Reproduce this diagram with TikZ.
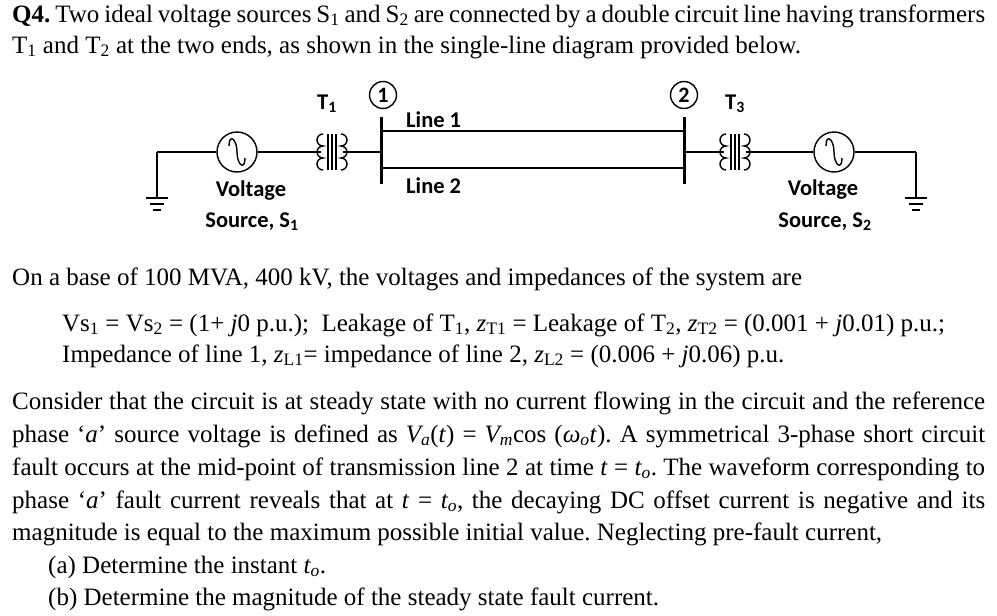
\documentclass[tikz,border=0pt]{standalone}
\usepackage{fontspec}
\usetikzlibrary{calc}
\setmainfont{Liberation Serif}
\newfontfamily\lbl{Carlito}
\frenchspacing
\begin{document}
\begin{tikzpicture}[x=1pt,y=-1pt,
  txt/.style={anchor=base west,inner sep=0pt,font=\fontsize{25}{28}\selectfont},
  lab/.style={inner sep=0pt,font=\lbl\bfseries\fontsize{22.5}{26}\selectfont},
  wire/.style={line width=1.6pt},
  bus/.style={line width=3pt},
  src/.style={circle,draw,line width=1.4pt,minimum size=40pt,inner sep=0pt},
  busnum/.style={circle,draw,line width=1.4pt,minimum size=27pt,inner sep=0pt,font=\lbl\bfseries\fontsize{22}{26}\selectfont}]
\useasboundingbox (0,0) rectangle (997,616);
% text
\node[txt] (t1) at (12,22) {\makebox[973pt][s]{\textbf{Q4.} Two ideal voltage sources S\textsubscript{1} and S\textsubscript{2} are connected by a double circuit line having transformers}};
\node[txt] (t2) at (12,53) {T\textsubscript{1} and T\textsubscript{2} at the two ends, as shown in the single-line diagram provided below.};
\node[txt] (t3) at (12,285) {On a base of 100 MVA, 400 kV, the voltages and impedances of the system are};
\node[txt] (t4) at (62,331) {Vs\textsubscript{1} = Vs\textsubscript{2} = (1+ \textit{j}0 p.u.);\ \ Leakage of T\textsubscript{1}, \textit{z}\textsubscript{T1} = Leakage of T\textsubscript{2}, \textit{z}\textsubscript{T2} = (0.001 + \textit{j}0.01) p.u.;};
\node[txt] (t5) at (62,362) {Impedance of line 1, \textit{z}\textsubscript{L1}= impedance of line 2, \textit{z}\textsubscript{L2} = (0.006 + \textit{j}0.06) p.u.};
\node[txt] (t6) at (12,409) {\makebox[973pt][s]{Consider that the circuit is at steady state with no current flowing in the circuit and the reference}};
\node[txt] (t7) at (12,442) {\makebox[973pt][s]{phase `\textit{a}' source voltage is defined as \textit{V\textsubscript{a}}(\textit{t}) = \textit{V\textsubscript{m}}cos (\textit{ω\textsubscript{o}t}). A symmetrical 3-phase short circuit}};
\node[txt] (t8) at (12,475) {\makebox[973pt][s]{fault occurs at the mid-point of transmission line 2 at time \textit{t} = \textit{t\textsubscript{o}}. The waveform corresponding to}};
\node[txt] (t9) at (12,508) {\makebox[973pt][s]{phase `\textit{a}' fault current reveals that at \textit{t} = \textit{t\textsubscript{o}}, the decaying DC offset current is negative and its}};
\node[txt] (t10) at (12,540) {magnitude is equal to the maximum possible initial value. Neglecting pre-fault current,};
\node[txt] (t11) at (48,573) {(a) Determine the instant \textit{t\textsubscript{o}}.};
\node[txt] (t12) at (48,605) {(b) Determine the magnitude of the steady state fault current.};
% diagram
\node[src] (s1) at (237,152) {};
\node[src] (s2) at (834,152) {};
\foreach \s in {s1,s2}{
  \draw[line width=1.4pt] ([xshift=-8pt,yshift=6pt]\s.center) .. controls +(0,-13) and +(0,-13) .. (\s.center) .. controls +(0,13) and +(0,13) .. ([xshift=8pt,yshift=-6pt]\s.center);}
\coordinate (g1) at (157,152);
\coordinate (g2) at (916,152);
\foreach \g in {g1,g2}{
  \draw[wire] (\g) -- ++(0,46);
  \draw[line width=1.4pt] ($(\g)+(-11,46)$) -- ++(22,0) ($(\g)+(-7,52)$) -- ++(14,0) ($(\g)+(-4,58)$) -- ++(8,0);}
\draw[wire] (g1) -- (s1.west);
\draw[wire] (s2.east) -- (g2);
% buses
\coordinate (b1t) at (381,117); \coordinate (b1b) at (381,184);
\coordinate (b2t) at (684,117); \coordinate (b2b) at (684,184);
\draw[bus] (b1t) -- (b1b);
\draw[bus] (b2t) -- (b2b);
\draw[wire] (381,131) -- (684,131);
\draw[wire] (381,168) -- (684,168);
\node[busnum] (n1) at (383,95) {1};
\node[busnum] (n2) at (684,95) {2};
% transformers
\foreach \cx/\nm in {332/tA,735/tB}{
  \coordinate (\nm) at (\cx,152);
  \draw[line width=1.1pt] (\cx-4,134) -- (\cx-4,170) (\cx,134) -- (\cx,170) (\cx+4,134) -- (\cx+4,170) ;
  \draw[line width=1.4pt] (\cx-9,134) arc(270:90:6) arc(270:90:6) arc(270:90:6);
  \draw[line width=1.4pt] (\cx+9,134) arc(-90:90:6) arc(-90:90:6) arc(-90:90:6);
}
\draw[wire] (s1.east) -- (321,152);
\draw[wire] (343,152) -- (381,152);
\draw[wire] (684,152) -- (724,152);
\draw[wire] (746,152) -- (s2.west);
\node[lab] (T1) at (327,104) {T\textsubscript{1}};
\node[lab] (T3) at (735,104) {T\textsubscript{3}};
\node[lab,anchor=west] (L1) at (406,120) {Line 1};
\node[lab,anchor=west] (L2) at (406,186) {Line 2};
\node[lab] (v1) at (251,191) {Voltage};
\node[lab] (v1b) at (252,222) {Source, S\textsubscript{1}};
\node[lab] (v2) at (823,190) {Voltage};
\node[lab] (v2b) at (825,222) {Source, S\textsubscript{2}};
\end{tikzpicture}
\end{document}
